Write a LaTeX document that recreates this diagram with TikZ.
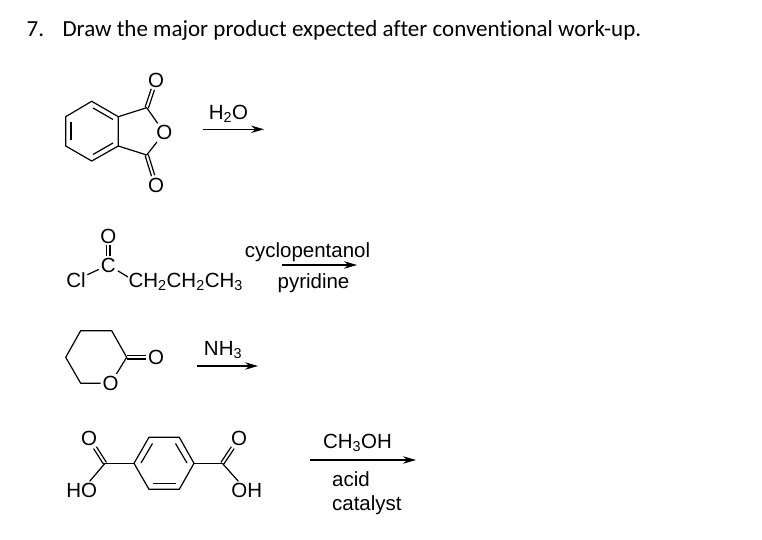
\documentclass[tikz,border=0pt]{standalone}
\usepackage{fontspec}
\setmainfont{Liberation Sans}
\newfontfamily\titlefont[Ligatures=NoCommon]{Carlito}
\usetikzlibrary{arrows.meta}
% two strokes side by side, shifted by (dx,dy) either way
\newcommand{\dblbond}[4]{%
\draw [transform canvas={xshift=#3pt,yshift=#4pt}] (#1)--(#2);
\draw [transform canvas={xshift=-#3pt,yshift=-#4pt}] (#1)--(#2);}
\begin{document}
\begin{tikzpicture}[x=1pt,y=-1pt,line width=1.2pt,
	atom/.style={inner sep=1.5pt,font=\fontsize{20.5}{20}\selectfont},
	chem/.style={inner sep=0pt,font=\fontsize{20.5}{22}\selectfont},
	reag/.style={inner sep=0pt,font=\fontsize{20.5}{22}\selectfont},
	head/.style={anchor=base west,inner sep=0pt,font=\titlefont\fontsize{23}{24}\selectfont},
	rxn/.style={line width=1.1pt,-{Stealth[length=13pt,width=7.5pt]}}]
\useasboundingbox (0,0) rectangle (762,540);
\node [head] (num) at (26,37) {7.};
\node [head] (title) at (62,37) {Draw the major product expected after conventional work-up.};
% anhydride
\coordinate (a1) at (91.7,101.3);
\coordinate (a2) at (118.3,116.7);
\coordinate (a3) at (118.3,146);
\coordinate (a4) at (91.7,161);
\coordinate (a5) at (65.7,146);
\coordinate (a6) at (65.7,116.7);
\coordinate (a1i) at (93,108);
\coordinate (a2i) at (113,119.5);
\coordinate (a3i) at (113,143);
\coordinate (a4i) at (93,154.5);
\coordinate (a5i) at (71,140);
\coordinate (a6i) at (71,122);
\coordinate (a7) at (146.7,107.7);
\coordinate (a8) at (146.7,155);
\node [atom] (aO) at (164.3,132.7) {O};
\node [atom] (aO1) at (156,80) {O};
\node [atom] (aO2) at (156,185) {O};
\draw (a1)--(a2)--(a3)--(a4)--(a5)--(a6)--cycle;
\draw (a1i)--(a2i);
\draw (a3i)--(a4i);
\draw (a5i)--(a6i);
\draw (a2)--(a7)--(aO)--(a8)--(a3);
\dblbond{a7}{aO1}{1.6}{-0.54}
\dblbond{a8}{aO2}{1.6}{0.5}
\node [reag] (water) at (228.5,113.5) {H\textsubscript{2}O};
\coordinate (w1) at (203,129.3);
\coordinate (w2) at (264,129.3);
\draw [rxn] (w1)--(w2);
% acid chloride
\node [atom] (bC) at (108.3,265) {C};
\node [atom] (bO) at (108.3,236) {O};
\node [atom,inner sep=1pt] (bCl) at (76,280) {Cl};
\node [chem,anchor=base west] (bR) at (128,287) {CH\textsubscript{2}CH\textsubscript{2}CH\textsubscript{3}};
\coordinate (bR1) at (128,277);
\dblbond{bC}{bO}{1.7}{0}
\draw (bCl)--(bC);
\draw (bC)--(bR1);
\node [reag] (cp) at (307.5,252) {cyclopentanol};
\node [reag] (py) at (313.5,283) {pyridine};
\coordinate (c1) at (282,265);
\coordinate (c2) at (357,265);
\draw [rxn] (c1)--(c2);
% lactone
\coordinate (l1) at (80.7,330.7);
\coordinate (l2) at (111.7,330.7);
\coordinate (l3) at (126.7,357.3);
\node [atom] (lO) at (110.7,383.3) {O};
\coordinate (l5) at (80.7,383.3);
\coordinate (l6) at (65.7,357.3);
\node [atom] (lO2) at (156,357.3) {O};
\draw (l5)--(l6)--(l1)--(l2)--(l3)--(lO)--(l5);
\dblbond{l3}{lO2}{0}{1.7}
\node [reag] (ammonia) at (223,350) {NH\textsubscript{3}};
\coordinate (n1) at (197,366);
\coordinate (n2) at (258,366);
\draw [rxn] (n1)--(n2);
% terephthalic acid
\coordinate (t1) at (134,463.3);
\coordinate (t2) at (149,437.3);
\coordinate (t3) at (179.3,437.3);
\coordinate (t4) at (194,463.3);
\coordinate (t5) at (179.3,489.3);
\coordinate (t6) at (149,489.3);
\coordinate (t2i) at (152.5,443.5);
\coordinate (t1i) at (141,463);
\coordinate (t3i) at (175.5,443.5);
\coordinate (t4i) at (187,463);
\coordinate (t5i) at (175.5,483.5);
\coordinate (t6i) at (153,483.5);
\coordinate (tL) at (105,463.3);
\coordinate (tR) at (222.3,463.3);
\node [atom] (tO1) at (89,438.3) {O};
\node [atom] (tO2) at (239,438.3) {O};
\node [atom] (tHO) at (81.7,490.7) {HO};
\node [atom] (tOH) at (246.7,490.7) {OH};
\draw (t1)--(t2)--(t3)--(t4)--(t5)--(t6)--cycle;
\draw (t1i)--(t2i);
\draw (t3i)--(t4i);
\draw (t5i)--(t6i);
\draw (t1)--(tL);
\draw (t4)--(tR);
\dblbond{tL}{tO1}{1.43}{0.92}
\dblbond{tR}{tO2}{1.41}{-0.94}
\draw (tL)--(tHO);
\draw (tR)--(tOH);
\node [reag] (meoh) at (357.5,443) {CH\textsubscript{3}OH};
\coordinate (m1) at (310,460);
\coordinate (m2) at (416,460);
\draw [rxn] (m1)--(m2);
\node [reag,anchor=base west] (acid) at (331.5,486) {acid};
\node [reag,anchor=base west] (cat) at (331.5,510) {catalyst};
\end{tikzpicture}
\end{document}
